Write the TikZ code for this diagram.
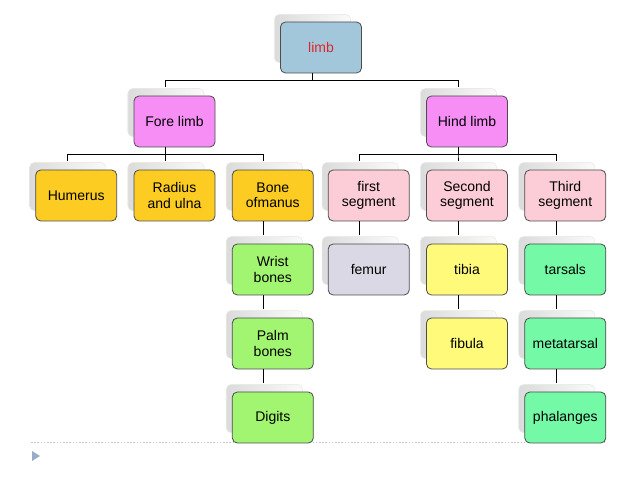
\documentclass[tikz,border=0pt]{standalone}
\usepackage{fontspec}
\setmainfont{Liberation Sans}
\usepackage{tikz}
\usetikzlibrary{positioning,shadows}
\definecolor{limbblue}{RGB}{163,199,218}
\definecolor{limbred}{RGB}{222,38,44}
\definecolor{limbviolet}{RGB}{246,142,246}
\definecolor{forehue}{RGB}{252,204,34}
\definecolor{seghue}{RGB}{252,205,214}
\definecolor{handgreen}{RGB}{162,245,112}
\definecolor{femurgray}{RGB}{218,216,228}
\definecolor{legyellow}{RGB}{255,250,122}
\definecolor{footgreen}{RGB}{116,250,166}
\definecolor{markblue}{RGB}{150,172,200}

\begin{document}
\begin{tikzpicture}[
			x=1pt, y=-1pt,
			card/.style={draw=black!70, line width=0.8pt, rounded corners=5pt,
				minimum width=81pt, minimum height=51pt, align=center,
				font=\fontsize{14}{15.5}\selectfont, text=black,
				copy shadow={shadow xshift=-9pt, shadow yshift=9.5pt, shadow scale=0.94,
					left color=black!14, right color=black!2, draw=black!8, line width=0.6pt}},
			link/.style={draw=black, line width=0.9pt}
			]
			\useasboundingbox (0,0) rectangle (638,478);
			\draw[black!22, line width=1pt, dash pattern=on 1.6pt off 1.6pt] (31,443) -- (606,443);
			\fill[markblue] (32,451) -- (40,456) -- (32,461) -- cycle;
			
			\node[card, fill=limbblue, text=limbred] (limb) at (321,47.5) {limb};
			\node[card, fill=limbviolet, below=22.2pt of limb, xshift=-146.5pt] (fore) {Fore limb};
			\node[card, fill=limbviolet, below=22.2pt of limb, xshift=146pt] (hind) {Hind limb};
			
			\node[card, fill=forehue, below=22.2pt of fore] (radius) {Radius\\and ulna};
			\node[card, fill=forehue, left=16.5pt of radius] (humerus) {Humerus};
			\node[card, fill=forehue, right=16.5pt of radius] (bone) {Bone\\ofmanus};
			\node[card, fill=seghue, below=22.2pt of hind] (second) {Second\\segment};
			\node[card, fill=seghue, left=16.5pt of second] (first) {first\\segment};
			\node[card, fill=seghue, right=16.5pt of second] (third) {Third\\segment};
			
			\node[card, fill=handgreen, below=22.2pt of bone] (wrist) {Wrist\\bones};
			\node[card, fill=handgreen, below=22.2pt of wrist] (palm) {Palm\\bones};
			\node[card, fill=handgreen, below=22.2pt of palm] (digits) {Digits};
			\node[card, fill=femurgray, below=22.2pt of first] (femur) {femur};
			\node[card, fill=legyellow, below=22.2pt of second] (tibia) {tibia};
			\node[card, fill=legyellow, below=22.2pt of tibia] (fibula) {fibula};
			\node[card, fill=footgreen, below=22.2pt of third] (tarsals) {tarsals};
			\node[card, fill=footgreen, below=22.2pt of tarsals] (meta) {metatarsal};
			\node[card, fill=footgreen, below=22.2pt of meta] (phal) {phalanges};
			
			% tree links (to the centre of the back card)
			\foreach \p/\c in {limb/fore, limb/hind, fore/humerus, fore/radius, fore/bone,
				hind/first, hind/second, hind/third}
				\draw[link] ([xshift=-9pt]\p.south) -- ++(0,-7.5pt) -| ([shift={(-9pt,9pt)}]\c.north);
			\foreach \p/\c in {bone/wrist, wrist/palm, palm/digits, first/femur, second/tibia,
				tibia/fibula, third/tarsals, tarsals/meta, meta/phal}
				\draw[link] ([xshift=-9pt]\p.south) -- ([shift={(-9pt,9pt)}]\c.north);
		\end{tikzpicture}
\end{document}
